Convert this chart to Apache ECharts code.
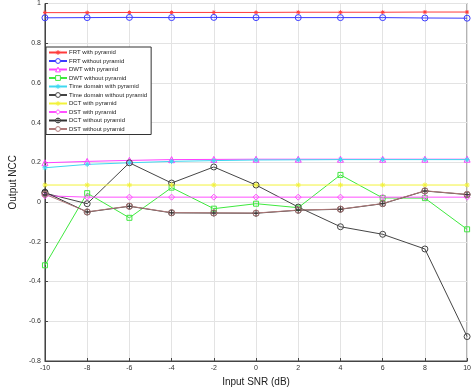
<!DOCTYPE html>
<html><head><meta charset="utf-8">
<script src="https://cdn.jsdelivr.net/npm/echarts@6/dist/echarts.min.js"></script>
<style>html,body{margin:0;padding:0;background:#fff}#c{width:474px;height:392px}</style>
</head><body><div id="c"></div>
<script>
const snr = [-10,-8,-6,-4,-2,0,2,4,6,8,10];
const frtWith = [0.954,0.954,0.955,0.955,0.955,0.955,0.956,0.956,0.956,0.957,0.957];
const frtWithout = [0.928,0.929,0.930,0.929,0.930,0.929,0.929,0.929,0.929,0.927,0.926];
const dwtWith = [0.198,0.205,0.210,0.214,0.215,0.216,0.216,0.216,0.216,0.216,0.216];
const dwtWithout = [-0.318,0.045,-0.079,0.073,-0.033,-0.008,-0.028,0.137,0.021,0.020,-0.137];
const tdWith = [0.173,0.190,0.198,0.205,0.209,0.212,0.213,0.214,0.214,0.214,0.214];
const tdWithout = [0.045,-0.008,0.198,0.096,0.177,0.086,-0.025,-0.124,-0.162,-0.236,-0.677];
const dctWith = [0.086,0.086,0.086,0.086,0.086,0.086,0.086,0.086,0.086,0.086,0.086];
const dstWith = [0.032,0.025,0.025,0.025,0.025,0.025,0.025,0.025,0.025,0.025,0.025];
const dctWithout = [0.050,-0.050,-0.021,-0.054,-0.055,-0.056,-0.041,-0.036,-0.008,0.056,0.038];
const dstWithout = [0.040,-0.049,-0.020,-0.053,-0.054,-0.055,-0.040,-0.035,-0.007,0.057,0.039];
const yTicks = [-0.8,-0.6,-0.4,-0.2,0,0.2,0.4,0.6,0.8,1];
const xTicks = [-10,-8,-6,-4,-2,0,2,4,6,8,10];

const star = 'path://M5,0L5,10M0,5L10,5M1.5,1.5L8.5,8.5M1.5,8.5L8.5,1.5';
const circle = 'path://M10,5A5,5,0,1,1,0,5A5,5,0,1,1,10,5Z';
const crossCircle = 'path://M10,5A5,5,0,1,1,0,5A5,5,0,1,1,10,5ZM5,0L5,10M0,5L10,5';
const tri = 'path://M5,0L10,9L0,9Z';
const sq = 'path://M0,0L10,0L10,10L0,10Z';
const dia = 'path://M5,0L10,5L5,10L0,5Z';

function mk(name, data, color, sym, size){
  return {
    name, type:'line', data: snr.map((x,i)=>[x,data[i]]),
    symbol: sym, symbolSize: size||5, showSymbol:true,
    lineStyle:{color, width:1},
    itemStyle:{color:'none', borderColor:color, borderWidth:1},
    emphasis:{disabled:true}, animation:false
  };
}
const series = [
  mk('FRT with pyramid', frtWith, '#ff3b3b', star, 4),
  mk('FRT without pyramid', frtWithout, '#3b3bff', circle, 6),
  mk('DWT with pyramid', dwtWith, '#ff40ff', tri, 6),
  mk('DWT without pyramid', dwtWithout, '#3fe83f', sq, 5),
  mk('Time domain with pyramid', tdWith, '#3fd8f0', star, 5),
  mk('Time domain without pyramid', tdWithout, '#454545', circle, 6),
  mk('DCT with pyramid', dctWith, '#f2f23a', star, 5),
  mk('DST with pyramid', dstWith, '#ff50ff', dia, 6),
  mk('DCT without pyramid', dctWithout, '#333333', crossCircle, 6),
  mk('DST without pyramid', dstWithout, '#b07a7a', circle, 6)
];

const chart = echarts.init(document.getElementById('c'), null, {renderer:'canvas'});
chart.setOption({
  animation:false,
  backgroundColor:'#fff',
  textStyle:{fontFamily:'Liberation Sans, Arial, sans-serif'},
  grid:{left:27, right:4, top:3, bottom:25, containLabel:false, show:true, borderColor:'#444', borderWidth:1},
  legend:{
    orient:'vertical', left:46, top:47,
    backgroundColor:'#fff', borderColor:'#333', borderWidth:1,
    padding:[2,4,2,2], itemGap:1.5, itemWidth:18, itemHeight:6,
    textStyle:{fontSize:6, lineHeight:7, color:'#222', fontFamily:'Liberation Sans, Arial, sans-serif', padding:[0,0,0,-3]},
    data: series.map(s=>({name:s.name, itemStyle:{color:'#fff', borderColor:s.lineStyle.color, borderWidth:1}}))
  },
  xAxis:{
    type:'value', min:-10, max:10, interval:2,
    name:'Input SNR (dB)', nameLocation:'middle', nameGap:16,
    nameTextStyle:{fontSize:10, color:'#222'},
    axisLine:{show:true, onZero:false, lineStyle:{color:'#444'}},
    axisTick:{show:true, inside:true, length:3, lineStyle:{color:'#444'}},
    axisLabel:{fontSize:7, color:'#333', margin:4, formatter:v=>xTicks.includes(v)?String(v):''},
    splitLine:{show:true, lineStyle:{color:'#e3e3e3', width:1}}
  },
  yAxis:{
    type:'value', min:-0.8, max:1, interval:0.2,
    name:'Output NCC', nameLocation:'middle', nameGap:16,
    nameTextStyle:{fontSize:10, color:'#222'},
    axisLine:{show:true, onZero:false, lineStyle:{color:'#444'}},
    axisTick:{show:true, inside:true, length:3, lineStyle:{color:'#444'}},
    axisLabel:{fontSize:7, color:'#333', margin:4, formatter:v=>{const r=Math.round(v*10)/10; return String(r);}},
    splitLine:{show:true, lineStyle:{color:'#e3e3e3', width:1}}
  },
  series
});
</script></body></html>
